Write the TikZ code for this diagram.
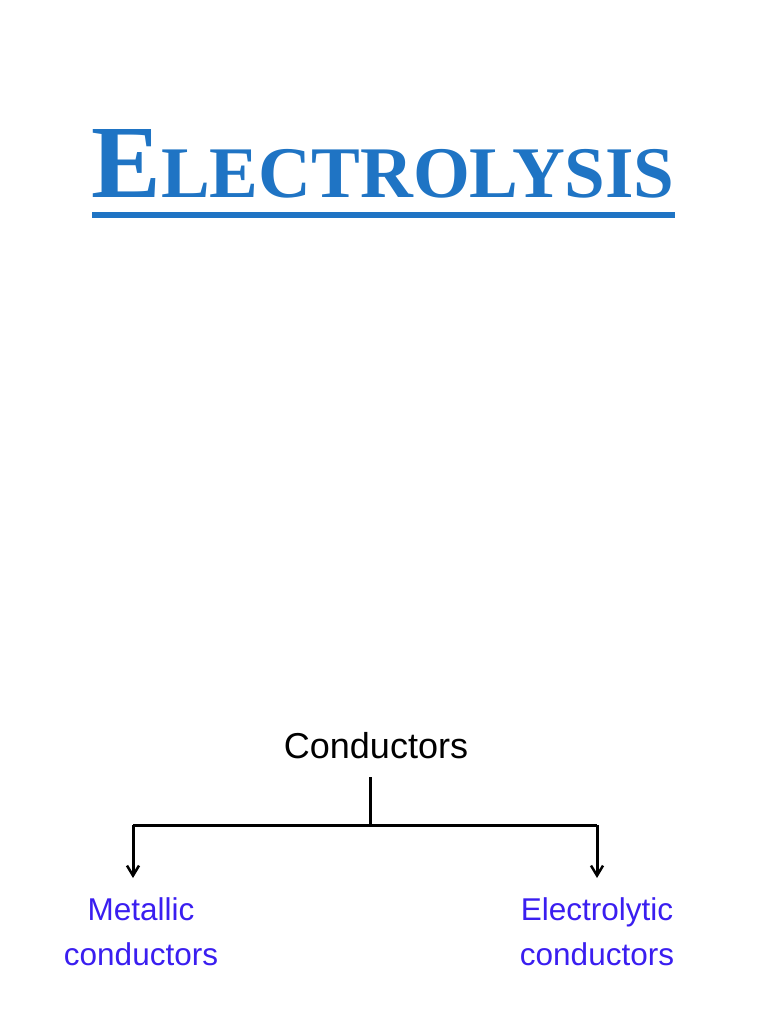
\documentclass[tikz,border=0pt]{standalone}
\usepackage{fontspec}
\setmainfont{Liberation Sans}
\newfontfamily\titlefont{Liberation Serif}
\usetikzlibrary{arrows.meta}
\definecolor{tblue}{HTML}{1F74C4}
\definecolor{lblue}{HTML}{3A1EF0}
\begin{document}
\begin{tikzpicture}[x=1pt,y=-1pt,
  lbl/.style={text=lblue,font=\fontsize{31.5}{45}\selectfont,align=center,inner sep=0},
  conn/.style={line width=3pt},
  arr/.style={conn,-{Straight Barb[length=10pt,width=12pt,line width=2.5pt]}}]
\useasboundingbox (0,0) rectangle (768,1024);
\node[anchor=base,inner sep=0,text=tblue] (title) at (383,198)
  {\resizebox{583pt}{68pt}{\titlefont\bfseries\fontsize{100}{100}\selectfont E\fontsize{70}{70}\selectfont LECTROLYSIS}};
\fill[tblue] (92,212) rectangle (675,218);
\node[inner sep=0,font=\fontsize{36}{40}\selectfont,anchor=base] (cond) at (376,758) {Conductors};
\coordinate (top) at (370,777);
\coordinate (mid) at (370,825);
\coordinate (l) at (133,825);
\coordinate (r) at (597,825);
\node[lbl,anchor=north] (met) at (141,897) {Metallic\\conductors};
\node[lbl,anchor=north] (ele) at (597,897) {Electrolytic\\conductors};
\draw[conn] (top) -- (mid);
\draw[conn] (l) -- (r);
\draw[arr] (l) -- (133,878);
\draw[arr] (r) -- (597,878);
\end{tikzpicture}
\end{document}
